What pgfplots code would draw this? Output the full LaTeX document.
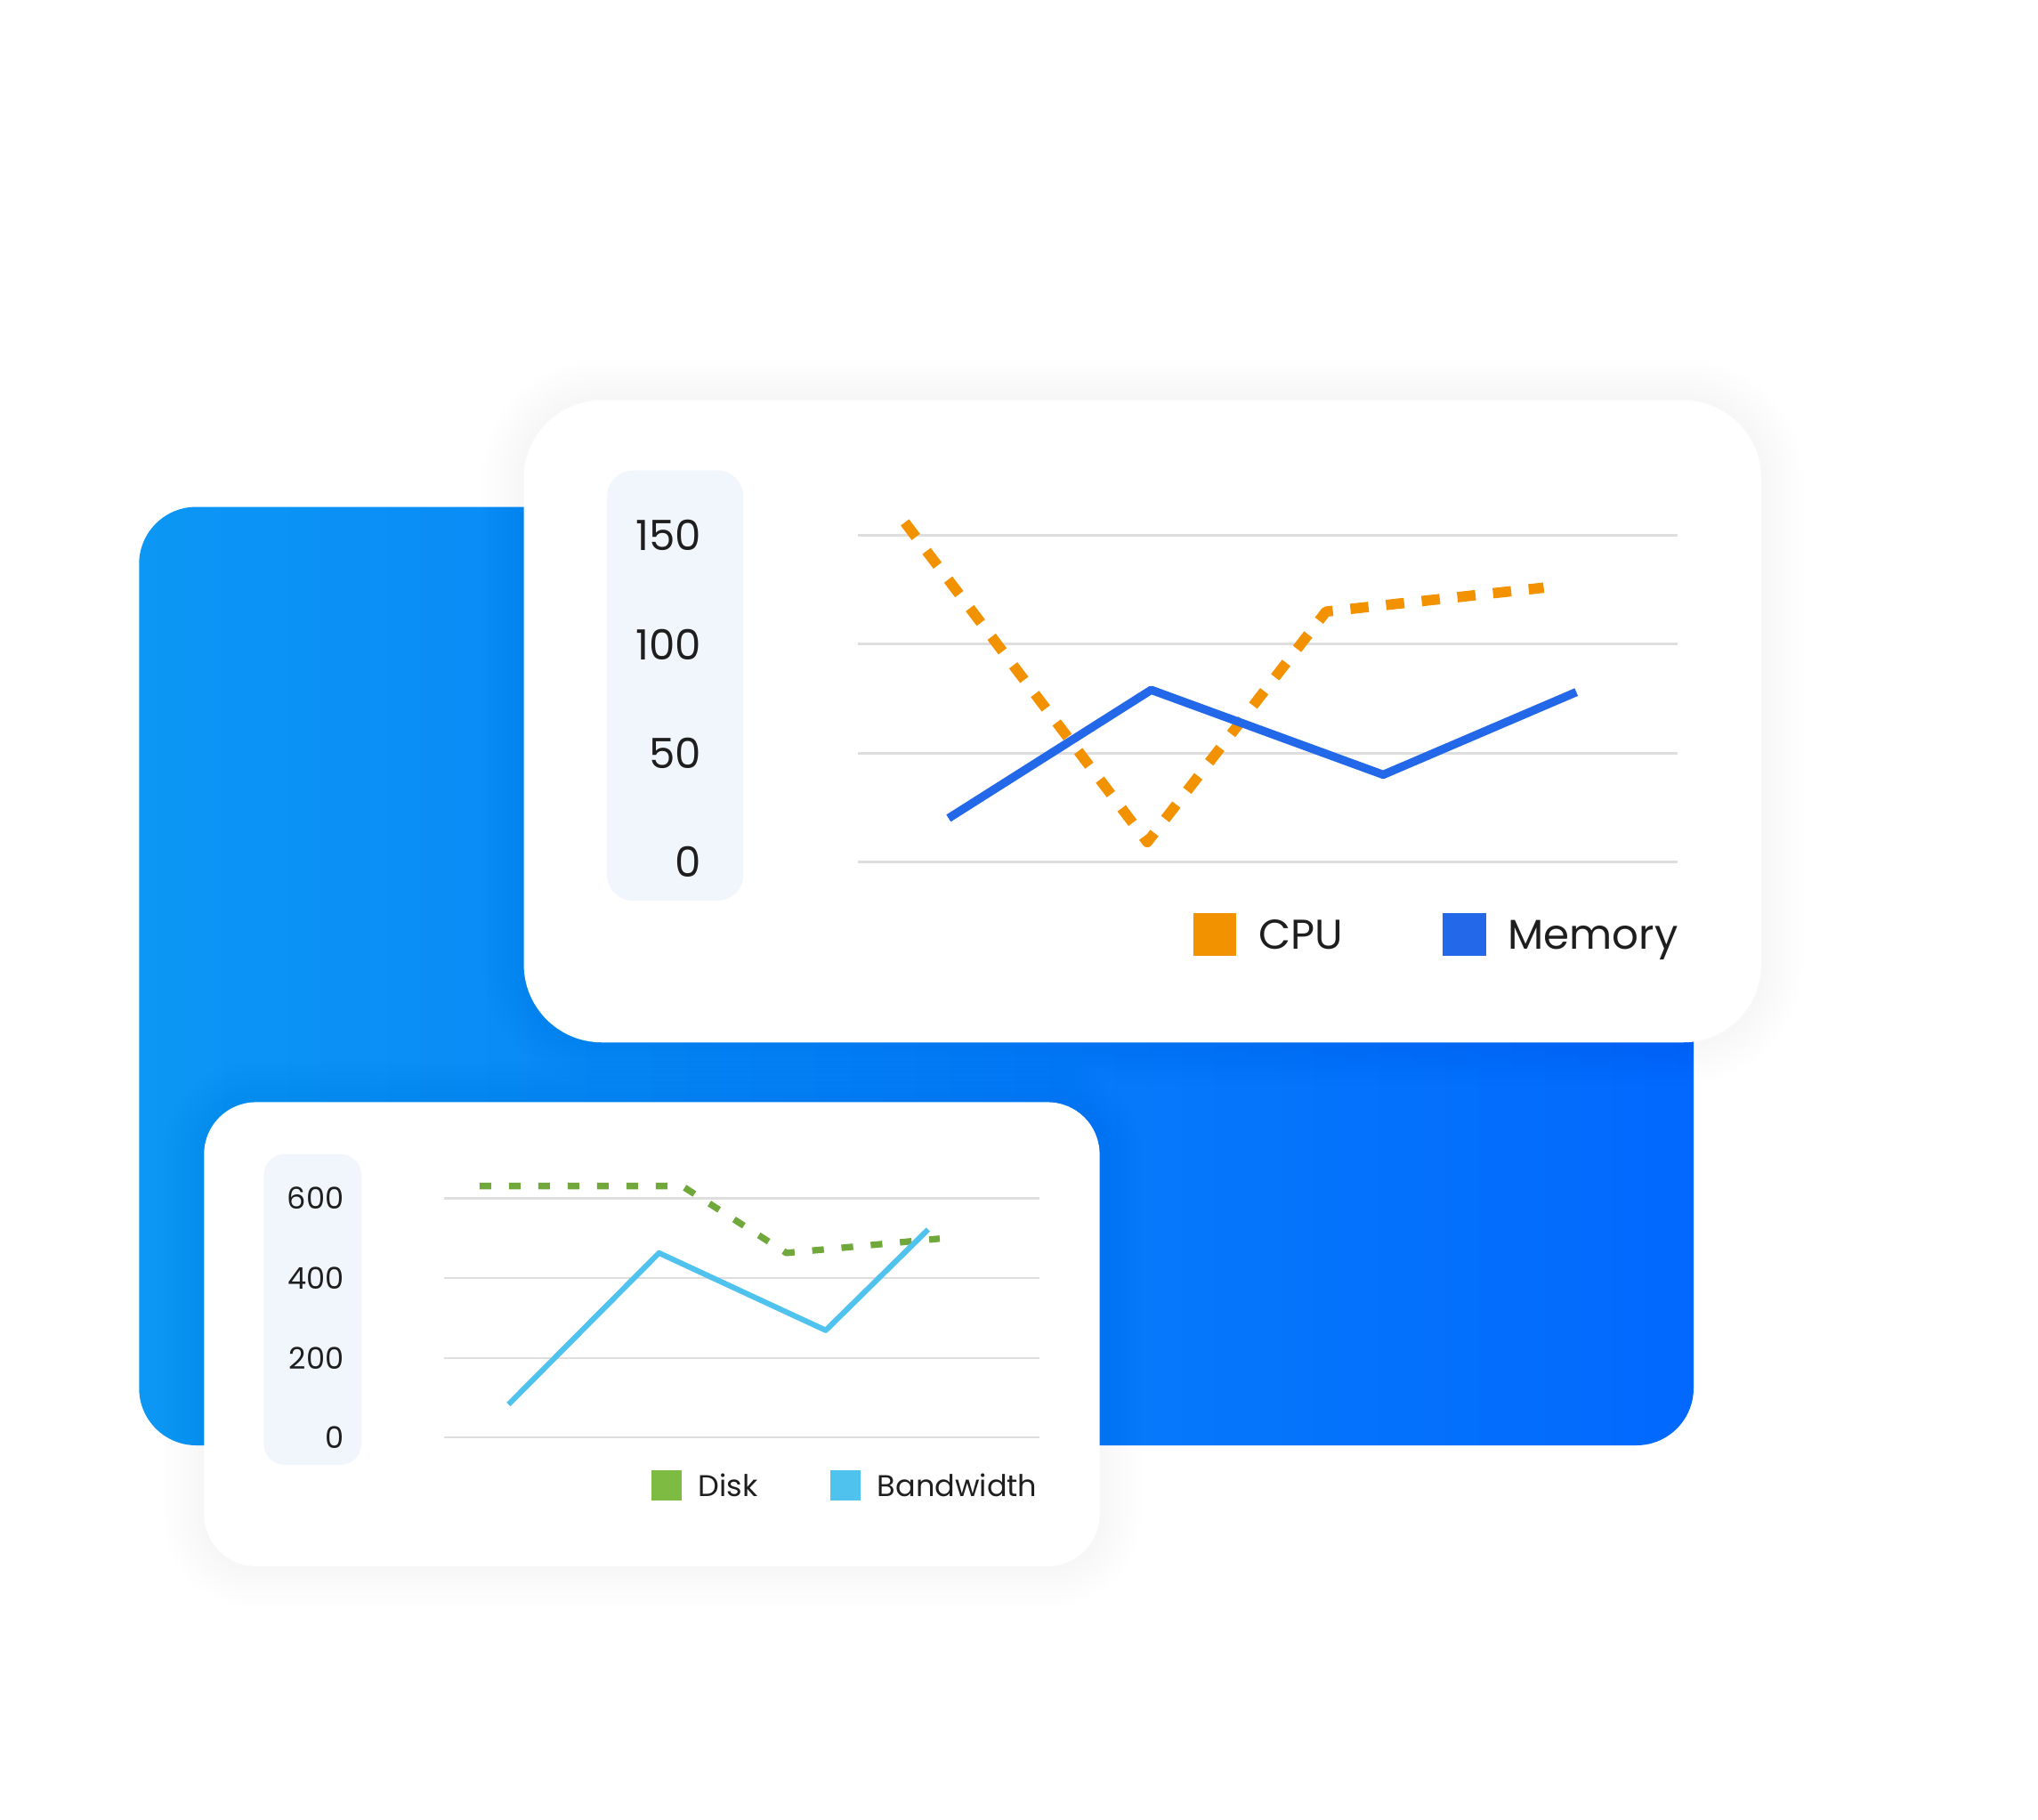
\documentclass[border=0pt]{standalone}
\usepackage{fontspec}
\setmainfont{Poppins}
\usepackage{pgfplots}
\pgfplotsset{compat=1.18}
\definecolor{cpuorange}{HTML}{F29200}
\definecolor{memblue}{HTML}{2468EA}
\definecolor{diskgreen}{HTML}{7DBB42}
\definecolor{bwblue}{HTML}{4FC2EE}
\definecolor{gridc}{HTML}{DEDEDE}
\definecolor{panelc}{HTML}{F1F6FD}
\definecolor{textc}{HTML}{1E1E1E}
\definecolor{bgA}{HTML}{0C97F4}
\definecolor{bgB}{HTML}{0268FE}
\begin{document}
\begin{tikzpicture}[x=0.5pt,y=0.5pt]
\path[use as bounding box, fill=white] (0,0) rectangle (1568,1400);
% soft global glow
\foreach \i in {0,...,19} {
  \fill[black, opacity=0.0012, rounded corners=60pt] (107-\i*11, 1092+\i*12) rectangle (1355+\i*9, 195-\i*9);
}
% blue background panel
\shade[rounded corners=22pt, left color=bgA, right color=bgB] (107,1010) rectangle (1303,288);
% top card shadow + card
\foreach \i in {1,...,8} {
  \fill[black, opacity=0.004, rounded corners=30pt+\i*2pt] (403-\i*4, 1092+\i*4) rectangle (1355+\i*4, 598-\i*4);
}
\fill[white, rounded corners=30pt] (403,1092) rectangle (1355,598);
% bottom card shadow + card
\foreach \i in {1,...,8} {
  \fill[black, opacity=0.003, rounded corners=20pt+\i*2pt] (157-\i*4, 552+\i*4) rectangle (846+\i*4, 195-\i*4);
}
\fill[white, rounded corners=20pt] (157,552) rectangle (846,195);
% y label panels
\fill[panelc, rounded corners=10pt] (467,1038) rectangle (572,707);
\fill[panelc, rounded corners=8pt] (203,512) rectangle (278,273);

% ---------- top chart ----------
\begin{axis}[
  at={(330pt,368.5pt)}, anchor=south west,
  width=315.5pt, height=125.5pt, scale only axis,
  xmin=660, xmax=1291, ymin=0, ymax=150,
  clip=false,
  axis line style={draw=none},
  xtick=\empty, ytick={0,50,100,150},
  major tick length=0pt,
  ymajorgrids, grid style={line width=1pt, color=gridc},
  yticklabel style={anchor=east, inner sep=0pt, xshift=-60pt, font=\fontsize{16}{20}\selectfont, text=textc},
  /pgf/number format/assume math mode=true,
  legend columns=-1,
  legend cell align=left,
  legend style={draw=none, fill=none, at={(1,-0.223)}, anchor=east,
    inner sep=0pt, outer sep=0pt,
    font=\fontsize{16}{20}\selectfont, text=textc,
    nodes={inner sep=0pt, text height=11.5pt, text depth=0pt},
    /tikz/every odd column/.append style={column sep=8.5pt},
    /tikz/every even column/.append style={column sep=38.5pt}},
]
\addplot[cpuorange, line width=4pt, dash pattern=on 7pt off 6.8pt, line join=round,
  legend image code/.code={\path[fill=cpuorange, draw=none] (0pt,-8.25pt) rectangle (16.5pt,8.25pt);}]
  coordinates {(696.2,156) (882.7,9) (1020.2,115) (1187.7,126)};
\addlegendentry{CPU}
\addplot[memblue, line width=3.2pt, line join=round,
  legend image code/.code={\path[fill=memblue, draw=none] (0pt,-8.25pt) rectangle (16.5pt,8.25pt);}]
  coordinates {(729.8,20) (885.7,79) (1064.2,40) (1212.8,78)};
\addlegendentry{Memory}
\end{axis}

% ---------- bottom chart ----------
\begin{axis}[
  at={(171pt,147pt)}, anchor=south west,
  width=229pt, height=92pt, scale only axis,
  xmin=342, xmax=800, ymin=0, ymax=600,
  clip=false,
  axis line style={draw=none},
  xtick=\empty, ytick={0,200,400,600},
  major tick length=0pt,
  ymajorgrids, grid style={line width=0.8pt, color=gridc},
  yticklabel style={anchor=east, inner sep=0pt, xshift=-38.5pt, font=\fontsize{11.5}{14}\selectfont, text=textc},
  /pgf/number format/assume math mode=true,
  legend columns=-1,
  legend cell align=left,
  legend style={draw=none, fill=none, at={(0.9956,-0.201)}, anchor=east,
    inner sep=0pt, outer sep=0pt,
    font=\fontsize{11.5}{14}\selectfont, text=textc,
    nodes={inner sep=0pt, text height=8.1pt, text depth=0pt},
    /tikz/every odd column/.append style={column sep=6.5pt},
    /tikz/every even column/.append style={column sep=28pt}},
]
\addplot[diskgreen!90!black, line width=2.5pt, dash pattern=on 4.5pt off 6.8pt, line join=round,
  legend image code/.code={\path[fill=diskgreen, draw=none] (0pt,-5.75pt) rectangle (11.5pt,5.75pt);}]
  coordinates {(368.9,631) (524.8,631) (605.0,463) (723.0,499)};
\addlegendentry{Disk}
\addplot[bwblue, line width=2.1pt, line join=round,
  legend image code/.code={\path[fill=bwblue, draw=none] (0pt,-5.75pt) rectangle (11.5pt,5.75pt);}]
  coordinates {(391.2,83) (507.0,463) (635.3,269) (714.1,522)};
\addlegendentry{Bandwidth}
\end{axis}
\end{tikzpicture}
\end{document}
